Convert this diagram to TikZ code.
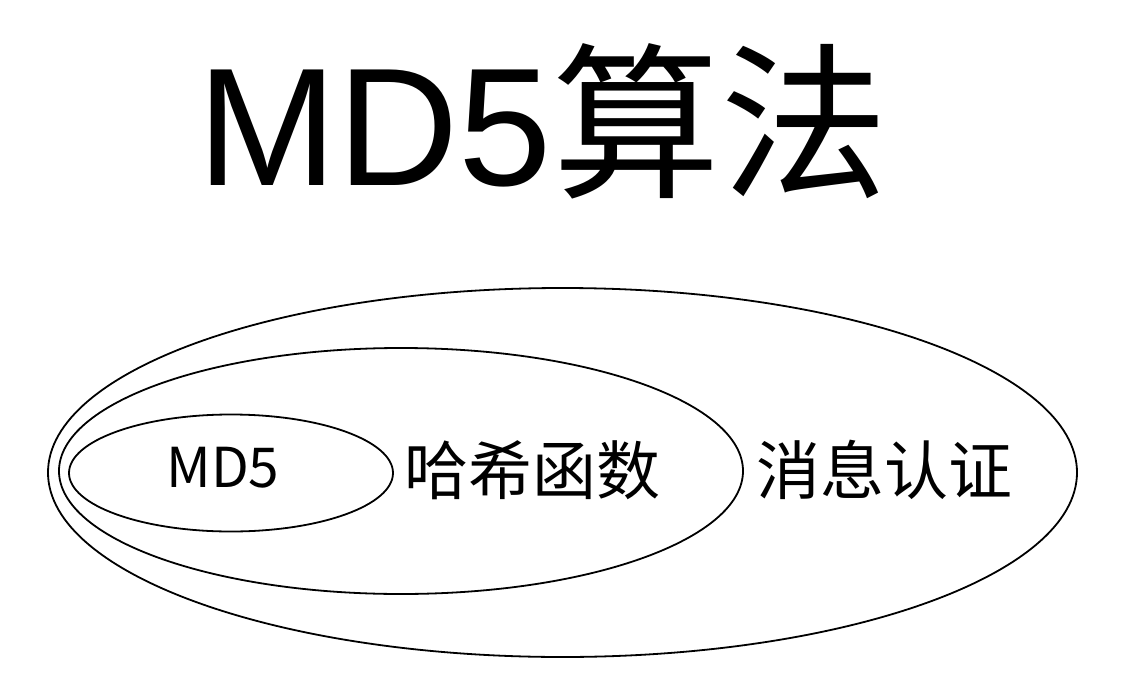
\documentclass[tikz,border=0pt]{standalone}
\usepackage{fontspec}
\setmainfont{Liberation Sans}
\newfontfamily\cjk{Noto Sans CJK SC}
\usetikzlibrary{shapes.geometric}

\begin{document}
\begin{tikzpicture}[x=1pt,y=-1pt,
	ring/.style={ellipse,
		draw = black,
		line width = 1.8pt,
		fill = none,
		inner sep = 0pt},
	label/.style={text = black,
		anchor = base,
		inner sep = 0pt,
		font = \cjk\fontsize{64}{70}\selectfont}]
			
			\useasboundingbox (0,0) rectangle (1128,699);
			
			\node[text = black,
			anchor = base,
			inner sep = 0pt,
			font = \fontsize{168}{180}\selectfont] (title) at (543,185) {MD5{\cjk 算法}};
			
			\node[ring,
			minimum width = 1029pt,
			minimum height = 369pt] (auth) at (562.5,472.5) {};
			
			\node[ring,
			minimum width = 684pt,
			minimum height = 246pt] (hash) at (401,471) {};
			
			\node[ring,
			minimum width = 324pt,
			minimum height = 117pt] (md5) at (231,473) {};
			
			\node[label, font = \cjk\fontsize{55}{60}\selectfont] (md5text) at (223,487) {MD5};
			\node[label] (hashtext) at (532,494) {哈希函数};
			\node[label] (authtext) at (884,494) {消息认证};
			
		\end{tikzpicture}
\end{document}
